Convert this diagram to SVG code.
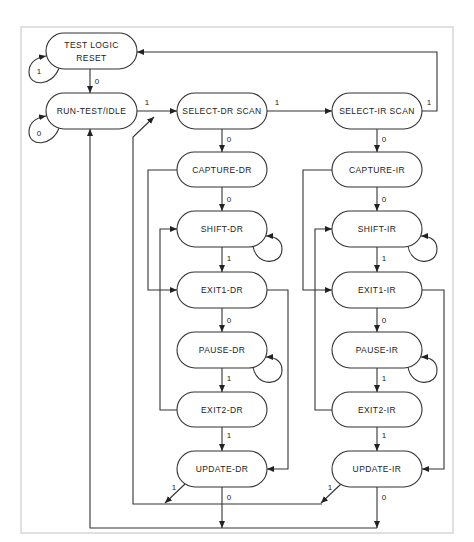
<svg xmlns="http://www.w3.org/2000/svg" width="474" height="542" viewBox="0 0 474 542">
<style>
.n rect{fill:#fff;stroke:#333;stroke-width:1.1}
.n text{font-family:"Liberation Sans",Arial,sans-serif;font-size:8.5px;letter-spacing:0.4px;fill:#222;text-anchor:middle}
.c path{fill:none;stroke:#333;stroke-width:1.1}
.c .a{marker-end:url(#ah)}
.l text{font-family:"Liberation Sans",Arial,sans-serif;font-size:8px;fill:#222;text-anchor:middle}
</style>
<defs>
<marker id="ah" markerUnits="userSpaceOnUse" markerWidth="8" markerHeight="6" refX="7" refY="3" orient="auto">
<path d="M0,0 L7,3 L0,6 z" fill="#222"/>
</marker>
</defs>
<rect x="0" y="0" width="474" height="542" fill="#fff"/>
<rect x="21" y="27" width="432" height="506" fill="none" stroke="#d6d6d6" stroke-width="1.5"/>

<g class="c" id="connectors">
<path class="a" d="M90,69 V93"/>
<path class="a" d="M59,68 C52,87 29,87 29,72 C29,63 35,58 46,56"/>
<path class="a" d="M59,128 C52,147 29,147 29,132 C29,123 35,118 46,116"/>
<path class="a" d="M137,111 H177"/>
<path class="a" d="M322,504 H133 V137 L154,117"/>
<path class="a" d="M267,111 H332"/>
<path class="a" d="M422,111 H437 V52 H137"/>
<path class="a" d="M222,129 V152"/>
<path class="a" d="M377,129 V152"/>
<path class="a" d="M222,187 V211"/>
<path class="a" d="M222,247 V272"/>
<path class="a" d="M222,308 V332"/>
<path class="a" d="M222,368 V392"/>
<path class="a" d="M222,427 V451"/>
<path class="a" d="M377,187 V211"/>
<path class="a" d="M377,247 V272"/>
<path class="a" d="M377,308 V332"/>
<path class="a" d="M377,368 V392"/>
<path class="a" d="M377,427 V451"/>
<path class="a" d="M177,170 H148 V290 H177"/>
<path class="a" d="M177,410 H160 V229 H177"/>
<path class="a" d="M267,290 H288 V469 H267"/>
<path class="a" d="M332,170 H303 V290 H332"/>
<path class="a" d="M332,410 H315 V229 H332"/>
<path class="a" d="M422,290 H444 V469 H422"/>
<path class="a" d="M253,246 C256,266 282,266 282,249 C282,241 276,236 266,236"/>
<path class="a" d="M253,367 C256,387 282,387 282,370 C282,362 276,357 266,357"/>
<path class="a" d="M408,246 C411,266 437,266 437,249 C437,241 431,236 421,236"/>
<path class="a" d="M408,367 C411,387 437,387 437,370 C437,362 431,357 421,357"/>
<path class="a" d="M185,484 L165,503"/>
<path class="a" d="M341,484 L321,503"/>
<path class="a" d="M222,487 V528"/>
<path class="a" d="M377,487 V528"/>
<path class="a" d="M377,528 H90 V129"/>
</g>

<g class="l" id="labels">
<text x="97" y="84">0</text>
<text x="39" y="74">1</text>
<text x="39" y="136">0</text>
<text x="147" y="105">1</text>
<text x="277" y="105">1</text>
<text x="429" y="105">1</text>
<text x="229" y="142">0</text>
<text x="229" y="202">0</text>
<text x="229" y="261">1</text>
<text x="229" y="323">0</text>
<text x="229" y="381">1</text>
<text x="229" y="438">1</text>
<text x="384" y="142">0</text>
<text x="384" y="202">0</text>
<text x="384" y="261">1</text>
<text x="384" y="323">0</text>
<text x="384" y="381">1</text>
<text x="384" y="438">1</text>
<text x="174" y="490">1</text>
<text x="330" y="490">1</text>
<text x="229" y="500">0</text>
<text x="384" y="500">0</text>
</g>

<g class="n" id="test-logic-reset"><rect x="46" y="33" width="91" height="36" rx="18"/><text x="91.5" y="48">TEST LOGIC</text><text x="91.5" y="61">RESET</text></g>
<g class="n" id="run-test-idle"><rect x="46" y="93" width="91" height="36" rx="18"/><text x="91.5" y="114">RUN-TEST/IDLE</text></g>
<g class="n" id="select-dr-scan"><rect x="177" y="93" width="90" height="36" rx="18"/><text x="222" y="114">SELECT-DR SCAN</text></g>
<g class="n" id="select-ir-scan"><rect x="332" y="93" width="90" height="36" rx="18"/><text x="377" y="114">SELECT-IR SCAN</text></g>
<g class="n" id="capture-dr"><rect x="177" y="152" width="90" height="35" rx="17.5"/><text x="222" y="172.5">CAPTURE-DR</text></g>
<g class="n" id="shift-dr"><rect x="177" y="211" width="90" height="36" rx="18"/><text x="222" y="232">SHIFT-DR</text></g>
<g class="n" id="exit1-dr"><rect x="177" y="272" width="90" height="36" rx="18"/><text x="222" y="293">EXIT1-DR</text></g>
<g class="n" id="pause-dr"><rect x="177" y="332" width="90" height="36" rx="18"/><text x="222" y="353">PAUSE-DR</text></g>
<g class="n" id="exit2-dr"><rect x="177" y="392" width="90" height="35" rx="17.5"/><text x="222" y="412.5">EXIT2-DR</text></g>
<g class="n" id="update-dr"><rect x="177" y="451" width="90" height="36" rx="18"/><text x="222" y="472">UPDATE-DR</text></g>
<g class="n" id="capture-ir"><rect x="332" y="152" width="90" height="35" rx="17.5"/><text x="377" y="172.5">CAPTURE-IR</text></g>
<g class="n" id="shift-ir"><rect x="332" y="211" width="90" height="36" rx="18"/><text x="377" y="232">SHIFT-IR</text></g>
<g class="n" id="exit1-ir"><rect x="332" y="272" width="90" height="36" rx="18"/><text x="377" y="293">EXIT1-IR</text></g>
<g class="n" id="pause-ir"><rect x="332" y="332" width="90" height="36" rx="18"/><text x="377" y="353">PAUSE-IR</text></g>
<g class="n" id="exit2-ir"><rect x="332" y="392" width="90" height="35" rx="17.5"/><text x="377" y="412.5">EXIT2-IR</text></g>
<g class="n" id="update-ir"><rect x="332" y="451" width="90" height="36" rx="18"/><text x="377" y="472">UPDATE-IR</text></g>
</svg>
